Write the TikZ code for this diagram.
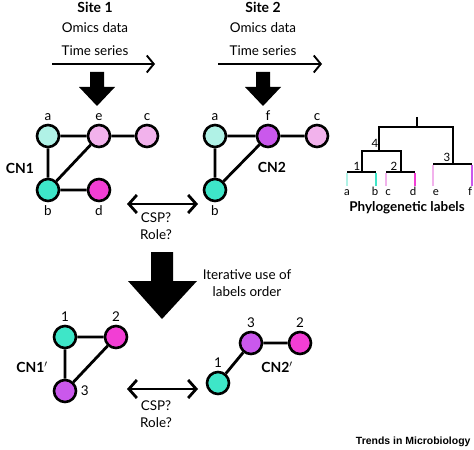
\documentclass[tikz,border=0pt]{standalone}
\usepackage{fontspec}
\setmainfont{Lato}
\newfontfamily\trendsfont{Liberation Sans}
\usetikzlibrary{arrows.meta}

\definecolor{cyanlt}{RGB}{176,242,230}
\definecolor{turq}{RGB}{62,230,200}
\definecolor{pinklt}{RGB}{242,178,236}
\definecolor{magen}{RGB}{242,62,212}
\definecolor{purp}{RGB}{202,88,236}

\begin{document}
\begin{tikzpicture}[x=1bp,y=-1bp,
    font=\fontsize{13.5}{15}\selectfont,
    vert/.style={circle,draw,line width=2.6bp,minimum size=22bp,inner sep=0pt},
    edge/.style={line width=2.8bp},
    tree/.style={line width=2.8bp},
    leaf/.style={line width=2.4bp},
    small/.style={font=\fontsize{11.5}{13}\selectfont,inner sep=1pt},
    timearrow/.style={line width=1.9bp,-{Straight Barb[length=7bp,width=17bp]}},
    bothways/.style={line width=2.8bp,{Straight Barb[length=8bp,width=18bp]}-{Straight Barb[length=8bp,width=18bp]}}]
    \useasboundingbox (0,0) rectangle (474,450);

    % site 1
    \node[font=\fontsize{14}{16}\selectfont\bfseries] (site1) at (95,7) {Site 1};
    \node (omics1) at (95,28) {Omics data};
    \node (time1) at (95,51) {Time series};
    \coordinate (t1a) at (52,64);
    \coordinate (t1b) at (155,64);
    \draw[timearrow] (t1a) -- (t1b);
    \fill (90,72) -- (104,72) -- (104,87) -- (115,87) -- (97,106) -- (79,87) -- (90,87) -- cycle;

    % site 2
    \node[font=\fontsize{14}{16}\selectfont\bfseries] (site2) at (263,7) {Site 2};
    \node (omics2) at (263,28) {Omics data};
    \node (time2) at (263,51) {Time series};
    \coordinate (t2a) at (218,64);
    \coordinate (t2b) at (322,64);
    \draw[timearrow] (t2a) -- (t2b);
    \fill (256,72) -- (270,72) -- (270,87) -- (281,87) -- (263,106) -- (245,87) -- (256,87) -- cycle;

    % CN1
    \node[vert,fill=cyanlt,label=above:a] (a1) at (48,136) {};
    \node[vert,fill=pinklt,label=above:e] (e1) at (99,136) {};
    \node[vert,fill=pinklt,label=above:c] (c1) at (147,136) {};
    \node[vert,fill=turq,label=below:b] (b1) at (48,190) {};
    \node[vert,fill=magen,label=below:d] (d1) at (99,190) {};
    \draw[edge] (a1) -- (e1) (e1) -- (c1) (a1) -- (b1) (b1) -- (e1) (b1) -- (d1);
    \node[font=\fontsize{14}{16}\selectfont\bfseries] (cn1) at (20,168) {CN1};

    % CN2
    \node[vert,fill=cyanlt,label=above:a] (a2) at (215,136) {};
    \node[vert,fill=purp,label=above:f] (f2) at (268,136) {};
    \node[vert,fill=pinklt,label=above:c] (c2) at (317,136) {};
    \node[vert,fill=turq,label=below:b] (b2) at (215,190) {};
    \draw[edge] (a2) -- (f2) (f2) -- (c2) (a2) -- (b2) (b2) -- (f2);
    \node[font=\fontsize{14}{16}\selectfont\bfseries] (cn2) at (272,167) {CN2};

    % compare
    \coordinate (cmp1a) at (127,204);
    \coordinate (cmp1b) at (198,204);
    \draw[bothways] (cmp1a) -- (cmp1b);
    \node[align=center,font=\fontsize{13.5}{17}\selectfont] (ask1) at (156,226) {CSP?\\Role?};

    % phylogeny
    \draw[tree] (417,117) -- (417,127);
    \draw[tree] (379,151) -- (379,127) -- (453,127) -- (453,164);
    \draw[tree] (362,172) -- (362,151) -- (401,151) -- (401,172);
    \draw[tree] (347,172) -- (376,172);
    \draw[tree] (386,172) -- (415,172);
    \draw[tree] (433,164) -- (472,164);
    \draw[leaf,cyanlt] (347,173.5) -- (347,186);
    \draw[leaf,turq] (376,173.5) -- (376,186);
    \draw[leaf,pinklt] (386,173.5) -- (386,186);
    \draw[leaf,magen] (415,173.5) -- (415,186);
    \draw[leaf,pinklt] (433,165.5) -- (433,186);
    \draw[leaf,purp] (472,165.5) -- (472,186);
    \node[small] (n4) at (375,143) {4};
    \node[small] (n1) at (357,166) {1};
    \node[small] (n2) at (394,166) {2};
    \node[small] (n3) at (447,157) {3};
    \foreach \x/\t in {347/a,375/b,388/c,413/d,436/e,470/f}
        \node[small,anchor=base] (leaf\t) at (\x,196) {\t};
    \node[font=\fontsize{13.5}{15}\selectfont\bfseries] (phylo) at (407,208) {Phylogenetic labels};

    % iterative step
    \fill (151,252) -- (173,252) -- (173,281) -- (197,281) -- (162,319) -- (128,281) -- (151,281) -- cycle;
    \node[align=center,font=\fontsize{13.5}{17}\selectfont] (iter) at (247,283) {Iterative use of\\labels order};

    % CN1'
    \node[vert,fill=turq,label=above:1] (p1) at (65,337) {};
    \node[vert,fill=magen,label=above:2] (p2) at (116,337) {};
    \node[vert,fill=purp,label=right:3] (p3) at (65,391) {};
    \draw[edge] (p1) -- (p2) (p1) -- (p3) (p2) -- (p3);
    \node[font=\fontsize{14}{16}\selectfont\bfseries] (cn1p) at (32,367) {CN1$'$};

    % CN2'
    \node[vert,fill=turq,label=above:1] (q1) at (218,383) {};
    \node[vert,fill=purp,label=above:3] (q3) at (251,343) {};
    \node[vert,fill=magen,label=above:2] (q2) at (300,343) {};
    \draw[edge] (q1) -- (q3) (q3) -- (q2);
    \node[font=\fontsize{14}{16}\selectfont\bfseries] (cn2p) at (277,367) {CN2$'$};

    % compare again
    \coordinate (cmp2a) at (127,389);
    \coordinate (cmp2b) at (198,389);
    \draw[bothways] (cmp2a) -- (cmp2b);
    \node[align=center,font=\fontsize{13.5}{17}\selectfont] (ask2) at (156,414) {CSP?\\Role?};

    \node[anchor=east,font=\trendsfont\fontsize{10.5}{12}\selectfont\bfseries] (journal) at (474,442) {Trends in Microbiology};
\end{tikzpicture}
\end{document}
